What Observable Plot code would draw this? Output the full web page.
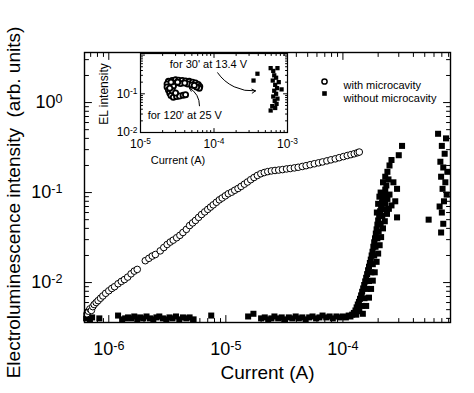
<!DOCTYPE html>
<html>
<head>
<meta charset="utf-8">
<script src="https://cdn.jsdelivr.net/npm/d3@7"></script>
<script src="https://cdn.jsdelivr.net/npm/@observablehq/plot@0.6"></script>
<style>
  html, body { margin: 0; padding: 0; background: white; }
  #wrap { position: relative; width: 474px; height: 393px; overflow: hidden; }
  #inset { position: absolute; left: 90px; top: 40px; }
</style>
</head>
<body>
<div id="wrap"><div id="main"></div><div id="inset"></div></div>
<script>
// ---------- main chart data ----------
const withCavityCurrent = [6.5e-7,6.7e-7,6.9e-7,7.1e-7,7.3e-7,7.5e-7,7.8e-7,8.1e-7,8.5e-7,8.9e-7,9.4e-7,1.0e-6,1.06e-6,1.12e-6,1.2e-6,1.28e-6,1.36e-6,1.45e-6,1.55e-6,1.65e-6,1.75e-6,
  2.05e-6,2.2e-6,2.35e-6,2.5e-6,2.75e-6,2.95e-6,3.15e-6,3.35e-6,3.55e-6,3.8e-6,4.05e-6,4.3e-6,4.6e-6,4.9e-6,5.2e-6,5.5e-6,5.85e-6,6.2e-6,6.6e-6,7.0e-6,7.4e-6,7.8e-6,8.3e-6,8.8e-6,9.3e-6,9.9e-6,
  1.05e-5,1.12e-5,1.19e-5,1.27e-5,1.35e-5,1.44e-5,1.53e-5,1.63e-5,1.74e-5,1.86e-5,1.99e-5,2.13e-5,2.28e-5,2.45e-5,2.63e-5,2.83e-5,3.05e-5,3.3e-5,3.55e-5,3.85e-5,4.15e-5,4.5e-5,4.85e-5,5.25e-5,5.7e-5,6.2e-5,6.7e-5,7.3e-5,7.9e-5,8.6e-5,9.3e-5,1.01e-4,1.09e-4,1.17e-4,1.25e-4,1.33e-4,1.38e-4];
const withCavityEL = [0.0045,0.0048,0.0051,0.0049,0.0054,0.0057,0.0060,0.0063,0.0067,0.0071,0.0076,0.0081,0.0086,0.0090,0.0097,0.0103,0.0108,0.0115,0.0125,0.0134,0.0140,
  0.0175,0.0186,0.0197,0.0205,0.0225,0.0245,0.0265,0.0282,0.0296,0.0315,0.0335,0.036,0.039,0.043,0.046,0.049,0.053,0.057,0.061,0.065,0.069,0.073,0.078,0.083,0.087,0.092,
  0.097,0.101,0.106,0.111,0.117,0.124,0.131,0.139,0.147,0.155,0.162,0.167,0.171,0.174,0.176,0.178,0.180,0.183,0.185,0.188,0.191,0.195,0.199,0.204,0.209,0.214,0.219,0.225,0.231,0.237,0.244,0.251,0.258,0.264,0.27,0.277,0.282];

const withoutCavityCurrent = [6.4e-7,6.6e-7,6.9e-7,7.2e-7,8.3e-7,1.2e-6,1.3e-6,1.38e-6,1.46e-6,1.55e-6,1.65e-6,1.75e-6,1.85e-6,1.97e-6,2.1e-6,2.25e-6,2.4e-6,2.55e-6,2.7e-6,2.9e-6,3.1e-6,3.3e-6,3.5e-6,3.75e-6,4.0e-6,4.3e-6,4.6e-6,4.9e-6,5.3e-6,7.5e-6,
  1.55e-5,1.72e-5,2.0e-5,2.15e-5,2.3e-5,2.45e-5,2.6e-5,2.8e-5,3.0e-5,3.2e-5,3.45e-5,3.7e-5,3.95e-5,4.2e-5,4.5e-5,4.8e-5,5.15e-5,5.5e-5,5.9e-5,6.3e-5,6.7e-5,7.2e-5,7.7e-5,8.2e-5,8.8e-5,9.4e-5,1.0e-4,1.06e-4,1.12e-4,
  1.16e-4,1.2e-4,1.24e-4,1.28e-4,1.31e-4,1.34e-4,1.37e-4,1.4e-4,1.43e-4,1.46e-4,1.49e-4,1.52e-4,1.55e-4,1.58e-4,1.61e-4,1.64e-4,1.67e-4,1.7e-4,1.73e-4,1.76e-4,1.79e-4,1.82e-4,1.85e-4,1.88e-4,1.91e-4,1.94e-4,1.97e-4,2.0e-4,2.04e-4,2.08e-4,2.12e-4,2.16e-4,2.2e-4,2.25e-4,2.3e-4,2.35e-4,
  1.48e-4,1.58e-4,1.67e-4,1.74e-4,1.8e-4,1.87e-4,1.94e-4,2.0e-4,2.06e-4,2.12e-4,2.2e-4,2.28e-4,2.38e-4,2.47e-4,2.6e-4,2.8e-4,2.9e-4,
  1.3e-4,1.38e-4,1.45e-4,1.53e-4,1.6e-4,1.67e-4,1.75e-4,1.8e-4,1.85e-4,1.9e-4,1.97e-4,2.02e-4,2.1e-4,2.17e-4,2.25e-4,2.3e-4,2.4e-4,2.5e-4,
  1.95e-4,2.0e-4,2.05e-4,2.1e-4,2.2e-4,2.3e-4,2.4e-4,2.5e-4,2.6e-4,2.45e-4,2.7e-4,2.9e-4,3.0e-4,3.2e-4,
  6.5e-4,7.6e-4,7.0e-4,7.4e-4,6.8e-4,7.2e-4,7.8e-4,6.9e-4,7.5e-4,7.1e-4,7.7e-4,7.3e-4,6.7e-4,7.0e-4,5.4e-4,7.2e-4,6.9e-4];
const withoutCavityEL = [0.0040,0.0042,0.0039,0.0041,0.0040,0.0043,0.0039,0.0040,0.0041,0.0040,0.0042,0.0039,0.0041,0.0040,0.0042,0.0040,0.0039,0.0041,0.0042,0.0040,0.0039,0.0041,0.0040,0.0042,0.0039,0.0041,0.0040,0.0041,0.0039,0.0043,
  0.0042,0.0045,0.0040,0.0041,0.0039,0.0040,0.0042,0.0040,0.0041,0.0039,0.0041,0.0040,0.0042,0.0040,0.0041,0.0039,0.0041,0.0042,0.0040,0.0041,0.0043,0.0041,0.0042,0.0040,0.0042,0.0041,0.0042,0.0041,0.0043,
  0.0042,0.0044,0.0046,0.0049,0.0053,0.0057,0.0061,0.0066,0.0072,0.0079,0.0086,0.0094,0.0103,0.0113,0.0124,0.0137,0.015,0.0165,0.018,0.020,0.022,0.025,0.028,0.031,0.035,0.039,0.044,0.049,0.055,0.062,0.07,0.078,0.087,0.097,0.108,0.12,
  0.0045,0.0055,0.0068,0.0085,0.0105,0.013,0.017,0.021,0.026,0.032,0.04,0.048,0.058,0.066,0.072,0.08,0.053,
  0.0044,0.0048,0.0055,0.0067,0.0085,0.0104,0.013,0.016,0.02,0.025,0.031,0.037,0.045,0.055,0.065,0.075,0.085,0.095,
  0.06,0.075,0.09,0.1,0.13,0.15,0.17,0.2,0.23,0.14,0.13,0.11,0.26,0.33,
  0.45,0.40,0.33,0.27,0.22,0.19,0.17,0.15,0.13,0.11,0.095,0.08,0.07,0.06,0.05,0.045,0.036];

const xMajorTicks = [1e-6, 1e-5, 1e-4];
const yMajorTicks = [1e-2, 1e-1, 1e0];
const legendLabels = ["with microcavity", "without microcavity"];
const xTitle = "Current (A)";
const yTitle = "Electroluminescence intensity  (arb. units)";

// ---------- inset data ----------
const insetCircleCurrent = [2.4e-5,2.7e-5,3.0e-5,3.3e-5,3.7e-5,4.1e-5,4.6e-5,5.1e-5,5.6e-5,6.1e-5,6.4e-5,6.3e-5,5.8e-5,2.3e-5,2.3e-5,2.4e-5,2.5e-5,2.6e-5,2.8e-5,3.1e-5,3.4e-5,3.8e-5,4.1e-5,3.0e-5,3.5e-5,2.8e-5,2.7e-5,3.0e-5,4.4e-5,5.0e-5,2.6e-5,3.2e-5,4.0e-5,5.4e-5,2.5e-5];
const insetCircleEL = [0.21,0.22,0.23,0.225,0.22,0.215,0.21,0.2,0.19,0.175,0.155,0.14,0.15,0.18,0.15,0.125,0.105,0.09,0.082,0.085,0.088,0.092,0.095,0.19,0.185,0.16,0.12,0.105,0.18,0.17,0.2,0.2,0.19,0.165,0.14];
const insetSquareCurrent = [3.45e-4,3.9e-4,5.9e-4,7.3e-4,6.4e-4,6.6e-4,7.0e-4,6.3e-4,7.6e-4,6.8e-4,7.2e-4,8.3e-4,6.6e-4,7.0e-4,6.4e-4,7.3e-4,6.7e-4,7.1e-4,6.2e-4,5.9e-4,6.8e-4];
const insetSquareEL = [0.22,0.33,0.46,0.46,0.39,0.3,0.26,0.22,0.2,0.17,0.14,0.13,0.12,0.1,0.085,0.075,0.065,0.055,0.048,0.037,0.043];
const insetXTicks = [1e-5, 1e-4, 1e-3];
const insetYTicks = [1e-2, 1e-1];
const annotationText = ["for 30' at 13.4 V", "for 120' at 25 V"];
const annotationX = [8.4e-5, 4.0e-5];
const annotationY = [0.59, 0.027];
const arrowX1 = [1.12e-4, 6.35e-5], arrowY1 = [0.35, 0.049];
const arrowX2 = [3.67e-4, 4.6e-5], arrowY2 = [0.119, 0.143];
const insetXTitle = "Current (A)";
const insetYTitle = "EL intensity";

// ---------- helpers ----------
const pow10 = d => "10^" + Math.round(Math.log10(d));
const tickShape = {draw(ctx, l) { ctx.moveTo(0, 0); ctx.lineTo(0, -l); }};
function minorTicks(domain) {
  return d3.scaleLog().domain(domain).ticks().filter(t => Math.abs(Math.log10(t) - Math.round(Math.log10(t))) > 1e-6);
}
function tickMarks(xMaj, xMin, yMaj, yMin, majLen, minLen) {
  const common = {anchor: "start", shape: tickShape, stroke: "black", strokeWidth: 1, clip: false};
  const m = [];
  for (const [fa, rot] of [["bottom", 0], ["top", 180]]) {
    m.push(Plot.vector(xMaj, {...common, x: d => d, frameAnchor: fa, rotate: rot, length: majLen}));
    m.push(Plot.vector(xMin, {...common, x: d => d, frameAnchor: fa, rotate: rot, length: minLen}));
  }
  for (const [fa, rot] of [["left", 90], ["right", 270]]) {
    m.push(Plot.vector(yMaj, {...common, y: d => d, frameAnchor: fa, rotate: rot, length: majLen}));
    m.push(Plot.vector(yMin, {...common, y: d => d, frameAnchor: fa, rotate: rot, length: minLen}));
  }
  return m;
}
// turn "10^-6" labels into 10 with a raised exponent
function superscripts(svg) {
  const ns = "http://www.w3.org/2000/svg";
  svg.querySelectorAll("text").forEach(t => {
    const m = t.textContent.match(/^10\^(-?\d+)$/);
    if (!m) return;
    t.textContent = "10";
    const s = document.createElementNS(ns, "tspan");
    s.setAttribute("dy", "-0.45em");
    s.setAttribute("font-size", "70%");
    s.textContent = m[1];
    t.appendChild(s);
  });
}

// ---------- main ----------
const withData = withCavityCurrent.map((x, i) => ({x, y: withCavityEL[i]}));
const withoutData = withoutCavityCurrent.map((x, i) => ({x, y: withoutCavityEL[i]}));
const xDom = [6.2e-7, 8.3e-4], yDom = [0.0036, 3.6];

const main = Plot.plot({
  width: 474, height: 393,
  marginLeft: 84, marginRight: 24, marginTop: 52, marginBottom: 71,
  x: {type: "log", domain: xDom},
  y: {type: "log", domain: yDom},
  style: {fontFamily: "'Liberation Sans', Arial, sans-serif", color: "black", background: "white"},
  marks: [
    Plot.dot(withoutData, {x: "x", y: "y", symbol: "square", r: 3.4, fill: "black"}),
    Plot.dot(withData, {x: "x", y: "y", symbol: "circle", r: 3.3, stroke: "black", strokeWidth: 1, fill: "white"}),
    Plot.frame({stroke: "black", strokeWidth: 1.4}),
    ...tickMarks(xMajorTicks, minorTicks(xDom), yMajorTicks, minorTicks(yDom), 7, 4),
    Plot.axisX(xMajorTicks, {anchor: "bottom", tickSize: 0, tickPadding: 20, tickFormat: pow10, fontSize: 18, label: null}),
    Plot.axisY(yMajorTicks, {anchor: "left", tickSize: 0, tickPadding: 22, tickFormat: pow10, fontSize: 18, label: null}),
    Plot.text([xTitle], {frameAnchor: "bottom", dy: 56, fontSize: 19}),
    Plot.text([yTitle], {frameAnchor: "left", textAnchor: "middle", rotate: -90, dx: -71, dy: 15, fontSize: 19}),
    Plot.dot([legendLabels[0]], {frameAnchor: "top-left", dx: 240, dy: 29, symbol: "circle", r: 2.6, stroke: "black", fill: "white"}),
    Plot.dot([legendLabels[1]], {frameAnchor: "top-left", dx: 240, dy: 41, symbol: "square", r: 2.6, fill: "black"}),
    Plot.text([legendLabels[0]], {frameAnchor: "top-left", dx: 259, dy: 29, textAnchor: "start", fontSize: 11}),
    Plot.text([legendLabels[1]], {frameAnchor: "top-left", dx: 259, dy: 42, textAnchor: "start", fontSize: 11})
  ]
});
superscripts(main);
document.getElementById("main").append(main);

// ---------- inset ----------
const insetCircles = insetCircleCurrent.map((x, i) => ({x, y: insetCircleEL[i]}));
const insetSquares = insetSquareCurrent.map((x, i) => ({x, y: insetSquareEL[i]}));
const annotations = annotationText.map((t, i) => ({t, x: annotationX[i], y: annotationY[i]}));
const arrows = arrowX1.map((x1, i) => ({x1, y1: arrowY1[i], x2: arrowX2[i], y2: arrowY2[i]}));
const ixDom = [1e-5, 1e-3], iyDom = [0.01, 1.1];

const inset = Plot.plot({
  width: 210, height: 135,
  marginLeft: 50, marginRight: 13, marginTop: 13, marginBottom: 43,
  x: {type: "log", domain: ixDom},
  y: {type: "log", domain: iyDom},
  style: {fontFamily: "'Liberation Sans', Arial, sans-serif", color: "black", background: "transparent", overflow: "visible"},
  marks: [
    Plot.frame({fill: "white"}),
    Plot.dot(insetSquares, {x: "x", y: "y", symbol: "square", r: 2.4, fill: "black"}),
    Plot.dot(insetCircles, {x: "x", y: "y", symbol: "circle", r: 2.6, stroke: "black", strokeWidth: 1.8, fill: "white"}),
    Plot.arrow(arrows, {x1: "x1", y1: "y1", x2: "x2", y2: "y2", bend: -30, headLength: 6, stroke: "black", strokeWidth: 1}),
    Plot.text(annotations, {x: "x", y: "y", text: "t", fontSize: 11}),
    Plot.frame({stroke: "black", strokeWidth: 1.2}),
    ...tickMarks(insetXTicks, minorTicks(ixDom), [0.01, 0.1, 1], minorTicks(iyDom), 4, 2),
    Plot.axisX(insetXTicks, {anchor: "bottom", tickSize: 0, tickPadding: 7, tickFormat: pow10, fontSize: 12, label: null}),
    Plot.axisY(insetYTicks, {anchor: "left", tickSize: 0, tickPadding: 3, tickFormat: pow10, fontSize: 12, label: null}),
    Plot.text([insetXTitle], {frameAnchor: "bottom", dx: -36, dy: 31, fontSize: 11}),
    Plot.text([insetYTitle], {frameAnchor: "left", textAnchor: "middle", rotate: -90, dx: -36, dy: 1, fontSize: 12})
  ]
});
superscripts(inset);
document.getElementById("inset").append(inset);
</script>
</body>
</html>
